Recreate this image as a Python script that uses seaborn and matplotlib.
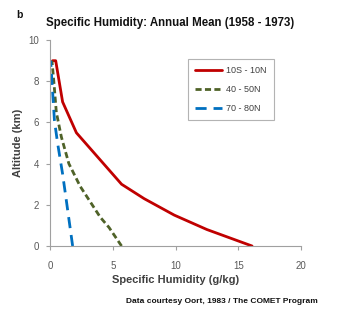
import pandas as pd
import matplotlib
matplotlib.use("Agg")
import matplotlib.pyplot as plt
import seaborn as sns

# profiles: humidity (g/kg) vs altitude (km)
tropics_q = [16.1, 12.5, 9.9, 7.5, 5.7, 2.1, 1.0, 0.45, 0.2]
tropics_z = [0.0, 0.8, 1.5, 2.3, 3.0, 5.5, 7.0, 9.0, 9.0]
midlat_q = [5.7, 4.7, 4.0, 2.4, 1.5, 0.9, 0.5, 0.3, 0.15]
midlat_z = [0.0, 0.9, 1.4, 2.9, 4.0, 5.3, 6.5, 8.0, 9.0]
polar_q = [1.8, 1.3, 1.0, 0.6, 0.35, 0.15, 0.05]
polar_z = [0.0, 2.2, 3.5, 5.0, 6.1, 8.0, 9.0]

labels = ["10S - 10N", "40 - 50N", "70 - 80N"]
colors = ["#C00000", "#4F6228", "#0070C0"]

sns.set_style("white")
plt.rcParams['font.family'] = ['Liberation Sans', 'DejaVu Sans']

fig = plt.figure(figsize=(3.5, 3.11), dpi=100)
ax = fig.add_axes([0.143, 0.209, 0.717, 0.662])

profiles = [(tropics_q, tropics_z, "-"), (midlat_q, midlat_z, (0, (2.2, 1.2))),
            (polar_q, polar_z, (0, (4, 2.5)))]
for (q, z, ls), lab, c in zip(profiles, labels, colors):
    df = pd.DataFrame({"q": q, "z": z})
    sns.lineplot(data=df, x="q", y="z", sort=False, ax=ax, color=c,
                 linewidth=2.0, linestyle=ls, label=lab)

ax.set_xlim(0, 20)
ax.set_ylim(0, 10)
ax.set_xticks([0, 5, 10, 15, 20])
ax.set_yticks([0, 2, 4, 6, 8, 10])
for side in ["top", "right"]:
    ax.spines[side].set_visible(False)
for side in ["left", "bottom"]:
    ax.spines[side].set_color("#A0A0A0")
    ax.spines[side].set_linewidth(0.8)
ax.tick_params(axis="both", labelsize=7, colors="#595959", length=3,
               width=0.8, direction="out", bottom=True, left=True)
ax.tick_params(axis="both", color="#A0A0A0")
ax.tick_params(axis="x", pad=8)
ax.tick_params(axis="y", pad=5)

ax.set_xlabel("Specific Humidity (g/kg)", fontsize=8, fontweight="bold",
              color="#404040", labelpad=3)
ax.set_ylabel("Altitude (km)", fontsize=8, fontweight="bold", color="#404040",
              labelpad=4)

leg = ax.legend(loc="upper left", bbox_to_anchor=(0.53, 0.93), fontsize=6.5,
                frameon=True, fancybox=False, handlelength=3.0, labelspacing=1.1,
                borderpad=0.8, handletextpad=0.5, labelcolor="#404040")
leg.get_frame().set_edgecolor("#A0A0A0")
leg.get_frame().set_linewidth(0.8)

fig.text(0.485, 0.926, "Specific Humidity: Annual Mean (1958 - 1973)", ha="center",
         va="center", fontsize=8.3, fontweight="bold", color="#111111")
fig.text(0.055, 0.952, "b", ha="center", va="center", fontsize=7.5,
         fontweight="bold", color="#111111")
fig.text(0.635, 0.032, "Data courtesy Oort, 1983 / The COMET Program", ha="center",
         va="center", fontsize=6, fontweight="bold", color="#111111")

fig.savefig("out.png", dpi=100)
